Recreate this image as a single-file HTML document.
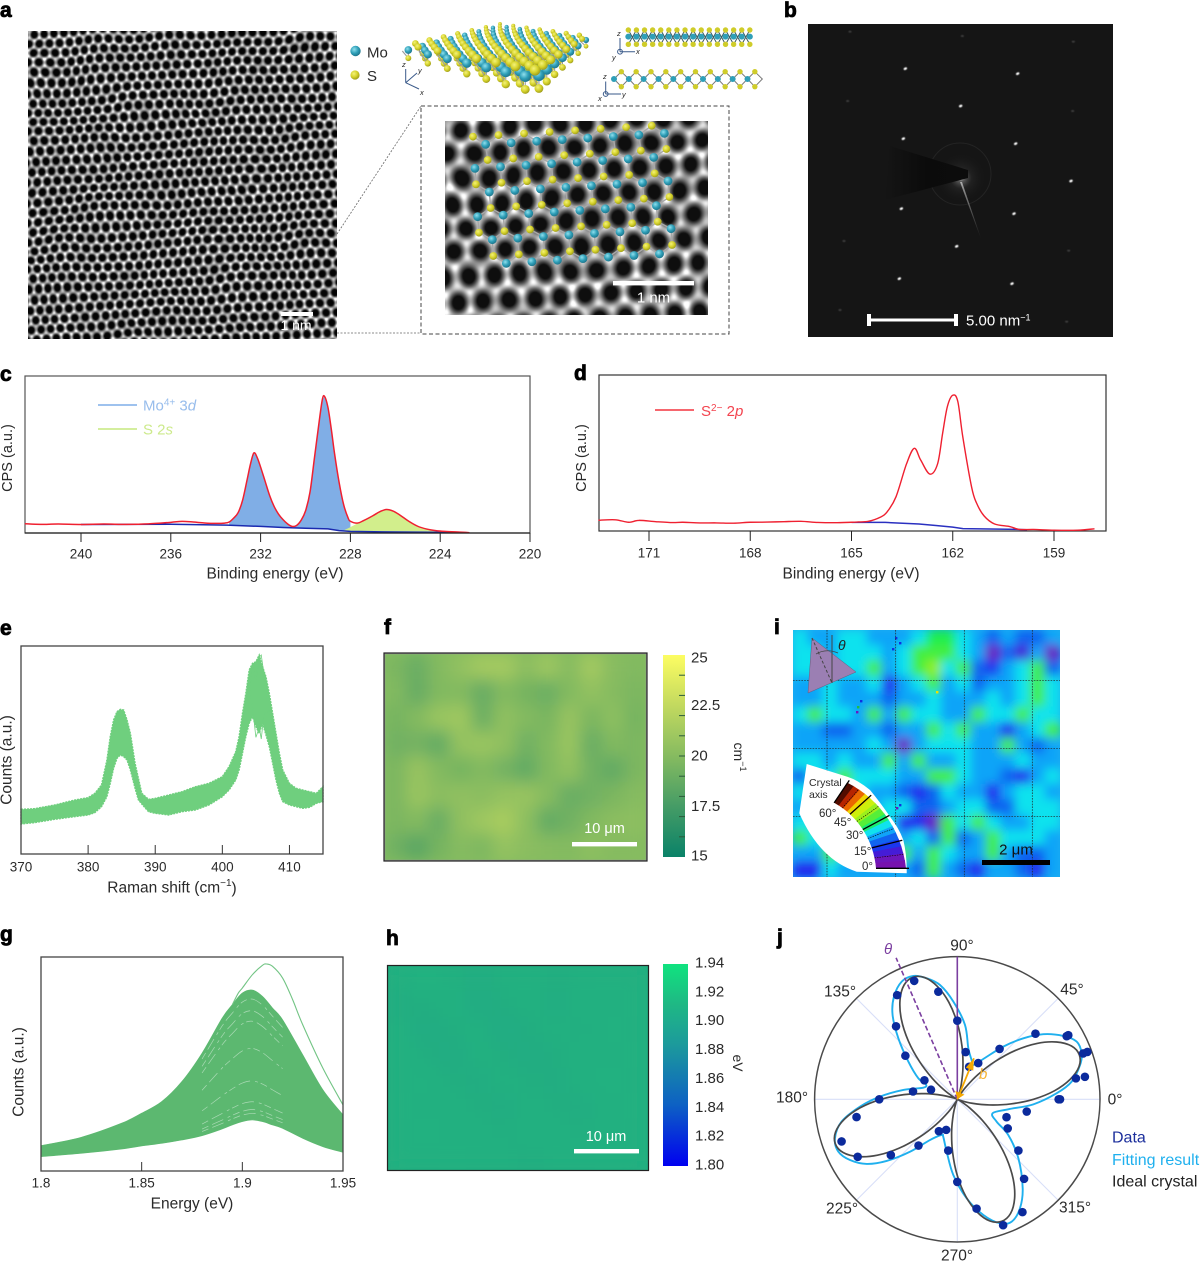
<!DOCTYPE html>
<html lang="en">
<head>
<meta charset="utf-8">
<title>MoS2 characterization figure</title>
<style>
html,body{margin:0;padding:0;background:#fff;}
#figure{position:relative;width:1200px;height:1262px;overflow:hidden;background:#fff;font-family:"Liberation Sans",sans-serif;}
canvas{position:absolute;display:block;}
svg#main{position:absolute;left:0;top:0;}
text{font-family:"Liberation Sans",sans-serif;fill:#2a2a2a;}
.panel{font-size:21px;font-weight:bold;fill:#000;stroke:#000;stroke-width:.8px;}
.tick{font-size:13.5px;text-anchor:middle;dominant-baseline:central;}
.axis{font-size:15.5px;text-anchor:middle;dominant-baseline:central;}
.cps{font-size:14.5px;}
.cb{font-size:15px;dominant-baseline:central;}
.ang{font-size:15.5px;text-anchor:middle;dominant-baseline:central;}
</style>
</head>
<body>
<div id="figure">
<canvas id="haadf" width="309" height="308" style="left:28px;top:31px"></canvas>
<canvas id="inset" width="263" height="194" style="left:445px;top:121px"></canvas>
<svg id="main" width="1200" height="1262" viewBox="0 0 1200 1262" xmlns="http://www.w3.org/2000/svg">
<defs>
<radialGradient id="moBall" cx=".38" cy=".35" r=".75"><stop offset="0" stop-color="#8fe0ee"/><stop offset=".5" stop-color="#2f9fb8"/><stop offset="1" stop-color="#1a6a80"/></radialGradient>
<radialGradient id="sBall" cx=".38" cy=".35" r=".75"><stop offset="0" stop-color="#f4f27a"/><stop offset=".5" stop-color="#d5d22a"/><stop offset="1" stop-color="#8f8d18"/></radialGradient>
<radialGradient id="beamGlow"><stop offset="0" stop-color="#fff" stop-opacity=".8"/><stop offset=".15" stop-color="#aaa" stop-opacity=".45"/><stop offset=".45" stop-color="#444" stop-opacity=".25"/><stop offset="1" stop-color="#222" stop-opacity="0"/></radialGradient>
<linearGradient id="stopFill" x1="0" x2="1" y1="0" y2="0"><stop offset="0" stop-color="#151515"/><stop offset=".5" stop-color="#0b0b0b"/><stop offset="1" stop-color="#0c0c0c"/></linearGradient>
<linearGradient id="streakFill" x1="0" x2="0" y1="0" y2="1"><stop offset="0" stop-color="#fff" stop-opacity=".55"/><stop offset="1" stop-color="#fff" stop-opacity="0"/></linearGradient>
<linearGradient id="fBar" x1="0" x2="0" y1="1" y2="0"><stop offset="0" stop-color="#0a8268"/><stop offset=".25" stop-color="#459c66"/><stop offset=".5" stop-color="#86bb60"/><stop offset=".75" stop-color="#c2d95f"/><stop offset="1" stop-color="#fdfd62"/></linearGradient>
<linearGradient id="hBar" x1="0" x2="0" y1="1" y2="0"><stop offset="0" stop-color="#0000f0"/><stop offset=".3" stop-color="#0d60c4"/><stop offset=".6" stop-color="#1c9a9c"/><stop offset=".8" stop-color="#1fb884"/><stop offset="1" stop-color="#10e37f"/></linearGradient>
<filter id="blurF" x="-5%" y="-5%" width="110%" height="110%"><feGaussianBlur stdDeviation="8"/></filter>
<filter id="blurH" x="-5%" y="-5%" width="110%" height="110%"><feGaussianBlur stdDeviation="10"/></filter>
<filter id="blurI" x="-5%" y="-5%" width="110%" height="110%"><feGaussianBlur stdDeviation="5"/></filter>
<filter id="blurSpot" x="-100%" y="-100%" width="300%" height="300%"><feGaussianBlur stdDeviation=".55"/></filter>
<clipPath id="clipF"><rect x="385" y="654" width="261" height="206"/></clipPath>
<clipPath id="clipH"><rect x="388" y="966" width="260" height="204"/></clipPath>
<clipPath id="clipI"><rect x="793" y="630" width="267" height="247"/></clipPath>
</defs>

<!-- panel letters -->
<text class="panel" x="0" y="17">a</text>
<text class="panel" x="784" y="17">b</text>
<text class="panel" x="0" y="381">c</text>
<text class="panel" x="574" y="380">d</text>
<text class="panel" x="0" y="635">e</text>
<text class="panel" x="384" y="634">f</text>
<text class="panel" x="0" y="941">g</text>
<text class="panel" x="386" y="945">h</text>
<text class="panel" x="774" y="634">i</text>
<text class="panel" x="777" y="944">j</text>

<!-- panel a -->
<g>
<rect x="281" y="312" width="32" height="4" fill="#fff"/>
<text x="296" y="325" style="fill:#fff;font-size:14px;text-anchor:middle;dominant-baseline:central">1 nm</text>
<circle cx="355.5" cy="51" r="5.2" fill="url(#moBall)"/>
<text x="367" y="57.5" style="font-size:15px">Mo</text>
<circle cx="355" cy="75" r="4.6" fill="url(#sBall)"/>
<text x="367" y="81" style="font-size:15px">S</text>
<path d="M337 234 L421 106 M337 333 L421 333" fill="none" stroke="#666" stroke-width=".8" stroke-dasharray="2 1.5"/>
<rect x="421" y="106" width="308" height="228" fill="none" stroke="#444" stroke-width="1" stroke-dasharray="4 2.5"/>
<g id="atoms3d"></g>
<g id="sideTop"></g>
<g id="sideBottom"></g>
<g id="insetAtoms"></g>
<rect x="613" y="281" width="81" height="4.4" fill="#fff"/>
<text x="653.5" y="298" style="fill:#fff;font-size:15px;text-anchor:middle;dominant-baseline:central">1 nm</text>
<g stroke="#3a5a8a" stroke-width="1" fill="none">
<path d="M405.7 82.7 V69 M405.7 82.7 L417 73 M405.7 82.7 L419 89"/>
<path d="M620 51.7 V38 M620 51.7 H635"/>
<path d="M605.7 94 V81.5 M605.7 94 H621"/>
<circle cx="620" cy="51.7" r="2.4"/><circle cx="605.7" cy="94" r="2.4"/>
</g>
<g style="font-size:7.5px;font-style:italic">
<text x="402" y="67">z</text><text x="418" y="73">y</text><text x="420" y="95">x</text>
<text x="617" y="36">z</text><text x="636" y="54">x</text><text x="612" y="60">y</text>
<text x="603" y="79">z</text><text x="622" y="97">y</text><text x="598" y="101">x</text>
</g>
</g>

<!-- panel b -->
<g>
<rect x="808" y="24" width="305" height="313" fill="#151515"/>
<circle cx="960" cy="174" r="31" fill="none" stroke="#242424" stroke-width="1"/>
<circle cx="961" cy="178" r="24" fill="url(#beamGlow)"/>
<polygon points="890,146 968,170 968,178 915,192 885,200" fill="url(#stopFill)"/>
<polygon points="960,182 962,182 981,238 980.5,238" fill="url(#streakFill)"/>
<g id="spots" filter="url(#blurSpot)"></g>
<rect x="867" y="318.5" width="91" height="3" fill="#fff"/>
<rect x="867" y="314" width="4" height="12" fill="#fff"/>
<rect x="954" y="314" width="4" height="12" fill="#fff"/>
<text x="966" y="325.5" style="fill:#fff;font-size:15px">5.00 nm<tspan dy="-5" style="font-size:9px;fill:#fff">−1</tspan></text>
</g>

<!-- panel c -->
<g id="chartC">
<rect x="25" y="376" width="505" height="157" fill="none" stroke="#555" stroke-width="1.2"/>
<g id="cMarks"></g>
<line x1="25" y1="533" x2="530" y2="533" stroke="#222" stroke-width="1.3"/>
<g id="cTicks"></g>
<text class="axis" x="275" y="574">Binding energy (eV)</text>
<text class="axis cps" transform="rotate(-90 8 458)" x="8" y="458">CPS (a.u.)</text>
<line x1="98" y1="405" x2="137" y2="405" stroke="#7eaee8" stroke-width="1.5"/>
<text x="143" y="410.5" style="fill:#98bdec;font-size:15px">Mo<tspan dy="-5" style="font-size:10px;fill:#98bdec">4+</tspan><tspan dy="5" style="fill:#98bdec"> 3</tspan><tspan style="font-style:italic;fill:#98bdec">d</tspan></text>
<line x1="98" y1="429" x2="137" y2="429" stroke="#c6e87e" stroke-width="1.5"/>
<text x="143" y="434.5" style="fill:#cdea8c;font-size:15px">S 2<tspan style="font-style:italic;fill:#cdea8c">s</tspan></text>
</g>

<!-- panel d -->
<g id="chartD">
<rect x="599" y="375" width="507" height="156" fill="none" stroke="#333" stroke-width="1.2"/>
<g id="dMarks"></g>
<g id="dTicks"></g>
<text class="axis" x="851" y="574">Binding energy (eV)</text>
<text class="axis cps" transform="rotate(-90 582 458)" x="582" y="458">CPS (a.u.)</text>
<line x1="655" y1="410" x2="694" y2="410" stroke="#f3333f" stroke-width="1.5"/>
<text x="701" y="416" style="fill:#f3444f;font-size:15px">S<tspan dy="-5" style="font-size:10px;fill:#f3444f">2−</tspan><tspan dy="5" style="fill:#f3444f"> 2</tspan><tspan style="font-style:italic;fill:#f3444f">p</tspan></text>
</g>

<!-- panel e -->
<g id="chartE">
<g id="eMarks"></g>
<rect x="21" y="646" width="302" height="208" fill="none" stroke="#444" stroke-width="1.3"/>
<g id="eTicks"></g>
<text class="axis" x="172" y="888">Raman shift (cm<tspan dy="-5" style="font-size:10px">−1</tspan><tspan dy="5">)</tspan></text>
<text class="axis" transform="rotate(-90 7 760)" x="7" y="760">Counts (a.u.)</text>
</g>

<!-- panel f -->
<g id="chartF">
<g clip-path="url(#clipF)"><rect x="385" y="654" width="261" height="206" fill="#85bd60"/><g id="fCells" filter="url(#blurF)"></g></g>
<rect x="384.7" y="653.7" width="261.6" height="206.6" fill="none" stroke="#999" stroke-width="1"/>
<rect x="384" y="653" width="263" height="208" fill="none" stroke="#222" stroke-width="1.2"/>
<rect x="572" y="842" width="65" height="4.4" fill="#fff"/>
<text x="604.5" y="829" style="fill:#fff;font-size:14.5px;text-anchor:middle;dominant-baseline:central">10 μm</text>
<rect x="663" y="655" width="22" height="202" fill="url(#fBar)"/>
<g id="fTicks"></g>
<text x="739" y="757" transform="rotate(90 739 757)" style="font-size:14px;text-anchor:middle;dominant-baseline:central">cm<tspan dy="-4" style="font-size:9px">−1</tspan></text>
</g>

<!-- panel g -->
<g id="chartG">
<g id="gMarks"></g>
<rect x="41" y="957" width="302" height="214" fill="none" stroke="#444" stroke-width="1.3"/>
<g id="gTicks"></g>
<text class="axis" x="192" y="1204">Energy (eV)</text>
<text class="axis" transform="rotate(-90 19 1072)" x="19" y="1072">Counts (a.u.)</text>
</g>

<!-- panel h -->
<g id="chartH">
<g clip-path="url(#clipH)"><rect x="388" y="966" width="260" height="204" fill="#22ae80"/><g id="hCells" filter="url(#blurH)"></g></g>
<rect x="387.5" y="965.5" width="261" height="205" fill="none" stroke="#222" stroke-width="1.2"/>
<rect x="574" y="1149" width="65" height="4.4" fill="#fff"/>
<text x="606" y="1137" style="fill:#fff;font-size:14.5px;text-anchor:middle;dominant-baseline:central">10 μm</text>
<rect x="663" y="964" width="25" height="202" fill="url(#hBar)"/>
<g id="hTicks"></g>
<text x="738" y="1063" transform="rotate(90 738 1063)" style="font-size:14px;text-anchor:middle;dominant-baseline:central">eV</text>
</g>

<!-- panel i -->
<g id="chartI">
<g clip-path="url(#clipI)"><rect x="793" y="630" width="267" height="247" fill="#16aef0"/><g id="iCells" filter="url(#blurI)"></g><g id="iSpecks"></g></g>
<path d="M827 630 V877 M895.7 630 V877 M964.3 630 V877 M1032.3 630 V877 M793 680.7 H1060 M793 748.7 H1060 M793 816.7 H1060" fill="none" stroke="#222" stroke-width=".7" stroke-dasharray="1.6 1.2"/>
<polygon points="812,638 856,672 808,693" fill="#9b7fb3" stroke="#6b5a7c" stroke-width=".5"/>
<path d="M832 635 V683" stroke="#444" stroke-width="1" fill="none"/>
<path d="M812 638 L832 683" stroke="#444" stroke-width="1" stroke-dasharray="3 2" fill="none"/>
<path d="M816 654 Q826 648 838 653" stroke="#444" stroke-width=".8" fill="none"/>
<text x="838" y="650" style="font-size:14px;font-style:italic;fill:#222">θ</text>
<g id="fan"></g>
<text x="809" y="786" style="font-size:10.5px">Crystal</text>
<text x="809" y="798" style="font-size:10.5px">axis</text>
<text x="819" y="817" style="font-size:11.5px">60°</text>
<text x="834" y="826" style="font-size:11.5px">45°</text>
<text x="846" y="839" style="font-size:11.5px">30°</text>
<text x="854" y="855" style="font-size:11.5px">15°</text>
<text x="862" y="870" style="font-size:11.5px">0°</text>
<rect x="982" y="860" width="68" height="5" fill="#000"/>
<text x="1016" y="850" style="fill:#111;font-size:15px;text-anchor:middle;dominant-baseline:central">2 μm</text>
</g>

<!-- panel j -->
<g id="chartJ">
<g id="jGrid"></g>
<circle cx="957.3" cy="1099.3" r="142.7" fill="none" stroke="#4a4a4a" stroke-width="1.5"/>
<g id="jMarks"></g>
<text class="ang" x="962" y="946">90°</text>
<text class="ang" x="1072" y="990">45°</text>
<text class="ang" x="840" y="992">135°</text>
<text class="ang" x="792" y="1098">180°</text>
<text class="ang" x="1115" y="1100">0°</text>
<text class="ang" x="842" y="1209">225°</text>
<text class="ang" x="1075" y="1208">315°</text>
<text class="ang" x="957" y="1256">270°</text>
<text x="884" y="954" style="fill:#7b3fa0;font-size:15px;font-style:italic">θ</text>
<text x="979" y="1079" style="fill:#f5b335;font-size:15px;font-style:italic">b</text>
<text x="1112" y="1142.5" style="fill:#1c2f9c;font-size:16px">Data</text>
<text x="1112" y="1165" style="fill:#1fb0ee;font-size:16px">Fitting result</text>
<text x="1112" y="1186.5" style="fill:#222;font-size:16px">Ideal crystal</text>
</g>
</svg>
</div>

<script>
/* ---------- chart data ---------- */
/* panel c */
const cEnergy=[242.5,241.8,241,240,239,238,237,236,235.5,235,234.5,234,233.6,233.4,233.2,233,232.8,232.6,232.45,232.3,232.15,232,231.8,231.6,231.4,231.2,231,230.8,230.6,230.4,230.2,230,229.8,229.6,229.4,229.25,229.15,229,228.85,228.7,228.5,228.3,228.1,228,227.7,227.4,227,226.7,226.4,226.1,225.8,225.4,225,224.6,224.2,223.8,223,222.7];
const cCounts=[5.9,5.5,5.7,5.4,5.7,5.5,5.8,6.8,7.4,7,6.4,6.1,6.3,7,9.5,13,21,34,44,51,48,42,33,24,17,12,8.5,5.8,4.2,4.8,8,14,26,48,70,85,87,80,66,50,32,18,9.5,7.5,6.3,8,11,13.5,15,14,11.5,7.5,4.3,2.5,1.5,1,.5,.2];
const cBackgroundEnergy=[240,236,233.5,232,231,230,229,228.5,228,226,223];
const cBackground=[5.4,5.6,5,4.2,3.5,3,2.6,1.5,1,.6,.3];
const cSulfurEnergy=[228.4,228.1,227.7,227.4,227,226.7,226.4,226.1,225.8,225.4,225,224.6,224.2,223.8];
const cSulfur=[1,3,6,8,11,13.5,15,14,11.5,7.5,4.3,2.5,1.5,.8];
const cTicks=[240,236,232,228,224,220];
/* panel d */
const dEnergy=[172.5,172,171.6,171.3,170.8,170.3,170,169.5,169,168.5,168,167.5,167,166.5,166,165.5,165,164.8,164.5,164.15,163.94,163.68,163.37,163.14,162.95,162.68,162.45,162.3,162.16,162,161.85,161.7,161.44,161.29,161.07,160.76,160.3,160.03,159.6,159,158.3,157.8];
const dCounts=[6.9,7.2,5.6,6.8,6,5.4,5.6,5.2,5.2,5,5.6,5.7,6,6.2,5.5,5.3,5.6,5.8,6.2,8.8,12.4,22,43,53,45.5,36.5,43,62.6,79.7,87,83,60,28,17.7,9.6,4.5,2.8,1,1,.5,.5,1.4];
const dBackgroundEnergy=[165,164,163,162.5,162,161.7,160,159.8];
const dBackground=[5.5,5.5,4.5,3.5,2.5,1.5,1,.8];
const dTicks=[171,168,165,162,159];
/* panel e */
const eShift=[370,372,375,378,380,381,382,382.8,383.3,383.8,384.3,384.8,385.3,385.8,386.3,387,387.5,388,389,390,392,394,396,398,400,401,402,402.5,403,403.5,404,404.5,405,405.5,406,406.5,407,407.5,408,408.5,409,410,411,412,413,414,415];
const eUpper=[134,136,147,162,169,182,207,282,352,402,427,434,432,402,362,272,227,182,164,167,177,187,202,212,232,262,307,352,422,482,552,572,577,597,562,532,482,422,362,302,252,212,197,192,187,182,202];
const eLower=[90,94,104,112,117,124,142,172,212,257,287,297,292,282,252,197,162,150,127,122,117,127,132,147,172,192,222,252,302,352,392,412,382,362,392,357,322,272,222,182,157,147,142,137,140,152,157];
const eSpikeShift=[404,404.5,405,405.5,405.8,406.2,407,408];
const eSpikeA=[480,570,520,590,597,540,470,350];
const eSpikeB=[500,440,350,380,345,420,430,340];
const eTicks=[370,380,390,400,410];
/* panel f */
const fMap=[
[19.6,18.9,19.9,20.5,21.2,21.2,20.2,20.9,20.0,21.2,20.1,19.8],
[19.8,18.8,19.8,19.9,18.8,19.9,19.4,19.0,19.9,20.5,20.0,19.6],
[19.4,19.9,20.8,21.0,19.0,20.4,19.9,19.5,20.7,19.6,20.3,19.4],
[19.2,19.3,18.7,20.6,20.8,20.4,19.2,19.8,20.8,18.9,19.8,19.6],
[19.6,20.7,19.9,19.4,19.9,19.3,18.6,19.8,20.5,19.2,18.6,19.6],
[19.6,20.8,20.2,20.4,20.2,20.6,20.7,20.0,18.9,19.2,19.6,20.0],
[19.6,19.9,18.9,20.4,21.0,21.4,20.3,18.7,19.2,19.8,20.2,20.3],
[19.1,18.3,19.4,20.0,19.7,20.6,20.2,20.0,19.9,20.3,20.0,20.0]];
const fColorValues=[15,17.5,20,22.5,25];
const fColors=["#0a8268","#459c66","#86bb60","#c2d95f","#fdfd62"];
const fBarLabels=["25","22.5","20","17.5","15"];
const fBarValues=[25,22.5,20,17.5,15];
const fMinorTicks=[24,23,22,21,20,19,18,17,16];
/* panel g */
const gEnergy=[1.80,1.82,1.84,1.85,1.86,1.87,1.88,1.89,1.895,1.90,1.905,1.91,1.915,1.92,1.93,1.94,1.95];
const gUpper=[76,101,143,173,208,268,353,458,498,533,542,523,488,453,348,243,168];
const gLower=[43,53,66,75,83,93,106,126,138,148,153,148,138,128,98,73,56];
const gBrightEnergy=[1.895,1.898,1.90,1.905,1.91,1.912,1.915,1.92,1.925,1.93,1.94,1.95];
const gBright=[498,533,548,588,616,620,613,578,513,438,308,198];
const gGapLevels=[.93,.84,.76,.55,.30,.14,.08,.05];
const gTicks=[1.8,1.85,1.9,1.95];
/* panel h */
const hMap=[
[1.906,1.908,1.906,1.904,1.906,1.907,1.905,1.906,1.907,1.906],
[1.904,1.905,1.907,1.903,1.905,1.906,1.904,1.906,1.906,1.907],
[1.906,1.903,1.905,1.906,1.902,1.905,1.906,1.905,1.907,1.906],
[1.907,1.905,1.903,1.906,1.905,1.903,1.905,1.906,1.906,1.907],
[1.906,1.907,1.905,1.904,1.906,1.905,1.904,1.906,1.907,1.906],
[1.907,1.906,1.906,1.905,1.904,1.906,1.905,1.904,1.906,1.907],
[1.906,1.907,1.906,1.906,1.905,1.906,1.906,1.905,1.906,1.906],
[1.907,1.906,1.907,1.906,1.906,1.905,1.906,1.906,1.907,1.906]];
const hColorValues=[1.80,1.842,1.884,1.905,1.94];
const hColors=["#0000f0","#0d60c4","#1c9a9c","#22ae80","#10e37f"];
const hBarLabels=["1.94","1.92","1.90","1.88","1.86","1.84","1.82","1.80"];
const hBarValues=[1.94,1.92,1.90,1.88,1.86,1.84,1.82,1.80];
/* panel i */
const iMap=[
[26,22,22,26,26,22,22,22,26,31,31,26,22,18,22,18,18,22],
[26,26,22,26,26,26,22,26,33,33,33,26,22,8,18,10,22,8],
[26,26,22,26,26,33,22,26,33,37,26,33,18,14,22,26,33,18],
[22,22,26,22,22,26,12,22,26,33,22,26,18,22,22,26,33,26],
[22,22,26,22,22,22,18,22,22,26,22,22,22,26,22,26,33,26],
[26,33,26,26,22,33,22,33,26,26,22,22,33,26,26,33,26,26],
[22,22,18,18,22,22,18,22,22,33,26,33,22,22,12,22,26,33],
[22,22,22,22,22,26,22,8,22,26,26,26,22,22,33,22,18,22],
[26,26,22,26,22,22,33,22,33,22,22,26,22,22,22,26,22,22],
[18,26,26,33,26,26,26,22,22,33,33,26,22,22,18,12,22,26],
[26,22,26,33,26,22,22,18,12,18,26,22,22,12,22,26,26,22],
[22,26,26,26,26,22,26,26,18,18,22,26,26,18,18,26,26,26],
[26,26,26,26,22,22,26,12,12,8,33,26,33,26,22,22,26,26],
[33,26,26,26,22,22,26,22,26,18,33,18,22,33,26,26,26,22],
[22,22,33,26,22,22,26,33,22,33,26,22,22,33,22,18,18,22],
[12,12,26,22,22,22,22,22,18,33,22,18,12,22,22,18,12,22]];
const iColorValues=[0,8,12,18,22,26,31,37,45,52,60];
const iColors=["#7a10a8","#6a18c0","#2020ee","#1064f0","#10a4f8","#10e2ee","#1cee50","#90f020","#f0f000","#e83000","#200000"];
const iWheelAngles=[0,4,8,12,16,20,24,28,32,36,40,44,48,52,56,60];
const iWheelMajor=[0,15,30,45,60];
const iWheelMinor=[7.5,22.5,37.5,52.5];
/* panel j */
const jDataAngle=[0,0,10,10,20,20,30,30,40,50,60,70,80,90,100,110,120,130,140,150,160,170,180,190,200,210,220,230,240,250,260,270,280,290,300,310,320,330,340,350];
const jDataRadius=[72,71,90.8,84.4,97,93.9,89.8,88.5,71.5,46.1,29.3,24.2,33.6,55.1,76.6,88.3,84.3,66.8,47.5,26.6,19.6,31.5,54.7,71.7,86.3,80.6,60.8,42.3,25.8,22.8,36.5,57.9,77.8,93.9,91.3,72.8,55.9,40.8,36.7,49.4];
const jFitAngle=[338.4,348.9,356.2,3.5,8.8,15.6,20.3,25.8,30.9,37.1,42.7,48.9,57.2,65,70,77.8,84.1,92.3,98.6,104.2,109.6,115.3,121.7,127.5,134,142.4,151.7,154.4,161.1,170.2,178,184.3,190.9,197.7,203.7,209.5,215.5,221.1,227.9,236.1,246.3,249.4,258.5,267,275.4,282.7,289,294,299.9,306.3,316,325,330.4];
const jFitRadius=[26.6,36.4,53.4,69.8,81.1,89.3,92.9,92.9,86.5,75.6,63,49,33.6,26.5,29.3,36.6,52.4,68.5,81,87.5,91.8,91.2,84.5,74.5,59.5,43.3,31,24.4,25.2,38.4,54.2,68.4,82.6,90,91.1,86.4,78,65.7,49.5,34.4,27.3,28,37.4,53.1,69.7,83.1,91.9,93.8,88.1,77.4,59.5,43.6,31.7];
const jIdealAngle=[0,5,10,15,20,25,30,35,40,45,50,55,60,65,70,75,80,85,90,95,100,105,110,115,120,125,130,135,140,145,150,155,160,165,170,175,180,185,190,195,200,205,210,215,220,225,230,235,240,245,250,255,260,265,270,275,280,285,290,295,300,305,310,315,320,325,330,335,340,345,350,355];
const jIdealRadius=[53.4,68.3,80.3,88.3,91,88.3,80.3,68.3,53.4,37.5,22.8,10.7,2.7,0,2.7,10.7,22.8,37.5,53.4,68.3,80.3,88.3,91,88.3,80.3,68.3,53.4,37.5,22.8,10.7,2.7,0,2.7,10.7,22.8,37.5,53.4,68.3,80.3,88.3,91,88.3,80.3,68.3,53.4,37.5,22.8,10.7,2.7,0,2.7,10.7,22.8,37.5,53.4,68.3,80.3,88.3,91,88.3,80.3,68.3,53.4,37.5,22.8,10.7,2.7,0,2.7,10.7,22.8,37.5];
const jSpokes=[0,45,90,135,180,225,270,315];
const jAxisAngle=113.4;
const jBAngle=67.9;

/* ---------- helpers ---------- */
const NS="http://www.w3.org/2000/svg";
function mk(tag,attrs,parent){
  const el=document.createElementNS(NS,tag);
  for(const k in attrs) el.setAttribute(k,attrs[k]);
  parent.appendChild(el);
  return el;
}
const $=id=>document.getElementById(id);
const linear=(d0,d1,r0,r1)=>v=>r0+(v-d0)*(r1-r0)/(d1-d0);
function interp(xs,ys,x){
  for(let i=0;i<xs.length-1;i++){
    const a=xs[i],b=xs[i+1];
    if((x>=a&&x<=b)||(x<=a&&x>=b)){return ys[i]+(ys[i+1]-ys[i])*(x-a)/(b-a);}
  }
  return ys[Math.abs(x-xs[0])<Math.abs(x-xs[xs.length-1])?0:ys.length-1];
}
function smooth(pts,closed){
  const n=pts.length;
  let d="M"+pts[0][0].toFixed(2)+" "+pts[0][1].toFixed(2);
  const last=closed?n:n-1;
  for(let i=0;i<last;i++){
    const g=k=>closed?pts[(k+n)%n]:pts[Math.max(0,Math.min(n-1,k))];
    const p0=g(i-1),p1=g(i),p2=g(i+1),p3=g(i+2);
    d+=" C"+(p1[0]+(p2[0]-p0[0])/6).toFixed(2)+" "+(p1[1]+(p2[1]-p0[1])/6).toFixed(2)+" "+(p2[0]-(p3[0]-p1[0])/6).toFixed(2)+" "+(p2[1]-(p3[1]-p1[1])/6).toFixed(2)+" "+p2[0].toFixed(2)+" "+p2[1].toFixed(2);
  }
  return d+(closed?" Z":"");
}
const poly=pts=>pts.map(p=>p[0].toFixed(2)+","+p[1].toFixed(2)).join(" ");
function hexRgb(h){return [parseInt(h.substr(1,2),16),parseInt(h.substr(3,2),16),parseInt(h.substr(5,2),16)];}
function colorAt(vals,cols,v){
  if(v<=vals[0])return cols[0];
  for(let i=0;i<vals.length-1;i++){
    if(v<=vals[i+1]){
      const t=(v-vals[i])/(vals[i+1]-vals[i]),a=hexRgb(cols[i]),b=hexRgb(cols[i+1]);
      return "rgb("+a.map((c,k)=>Math.round(c+(b[k]-c)*t)).join(",")+")";
    }
  }
  return cols[cols.length-1];
}

/* ---------- panel c ---------- */
(function(){
  const x=linear(240,220,81,530),y=linear(0,100,533,376);
  const g=$("cMarks");
  const moTop=cEnergy.map((e,i)=>[e,cCounts[i]]).filter(p=>p[0]<=233.4&&p[0]>=227.9);
  const moPts=moTop.map(p=>[x(p[0]),y(p[1])]).concat(moTop.slice().reverse().map(p=>[x(p[0]),y(interp(cBackgroundEnergy,cBackground,p[0]))]));
  const mo=mk("polygon",{points:poly(moPts),fill:"#80aee6"},g);
  
  
  const sPts=cSulfurEnergy.map((e,i)=>[x(e),y(cSulfur[i])]).concat(cSulfurEnergy.slice().reverse().map(e=>[x(e),y(interp(cBackgroundEnergy,cBackground,e))]));
  const su=mk("polygon",{points:poly(sPts),fill:"#d2ee8c"},g);
  
  
  const bg=mk("polyline",{points:poly(cBackgroundEnergy.map((e,i)=>[x(e),y(cBackground[i])])),fill:"none",stroke:"#1a2ab0","stroke-width":1.5},g);
  
  
  const line=mk("path",{d:smooth(cEnergy.map((e,i)=>[x(e),y(cCounts[i])])),fill:"none",stroke:"#ef2030","stroke-width":1.5},g);
  
  
  cTicks.forEach(t=>{
    const tk=mk("line",{x1:x(t),x2:x(t),y1:533,y2:542,stroke:"#222","stroke-width":1},$("cTicks"));
    
    
    const lb=mk("text",{x:x(t),y:554,class:"tick"},$("cTicks"));
    lb.textContent=t;
    
    
  });
})();

/* ---------- panel d ---------- */
(function(){
  const x=linear(171,159,649,1054),y=linear(0,100,531,375);
  const g=$("dMarks");
  const bg=mk("polyline",{points:poly(dBackgroundEnergy.map((e,i)=>[x(e),y(dBackground[i])])),fill:"none",stroke:"#2a30c0","stroke-width":1.5},g);
  
  
  const line=mk("path",{d:smooth(dEnergy.map((e,i)=>[x(e),y(dCounts[i])])),fill:"none",stroke:"#ef2030","stroke-width":1.4},g);
  
  
  dTicks.forEach(t=>{
    const tk=mk("line",{x1:x(t),x2:x(t),y1:531,y2:541,stroke:"#222","stroke-width":1},$("dTicks"));
    
    
    const lb=mk("text",{x:x(t),y:553,class:"tick"},$("dTicks"));
    lb.textContent=t;
    
    
  });
})();

/* ---------- panel e ---------- */
(function(){
  const x=linear(370,415,21,323),y=linear(0,624,854,646);
  const g=$("eMarks");
  const pts=eShift.map((s,i)=>[x(s),y(eUpper[i])]).concat(eShift.slice().reverse().map((s,i)=>[x(s),y(eLower[eShift.length-1-i])]));
  const band=mk("polygon",{points:poly(pts),fill:"#6fcf7e",stroke:"#6fcf7e","stroke-width":1.4,"stroke-dasharray":"2 1"},g);
  
  
  [eSpikeA,eSpikeB].forEach(s=>{
    const l=mk("polyline",{points:poly(eSpikeShift.map((v,i)=>[x(v),y(s[i])])),fill:"none",stroke:"#6fcf7e","stroke-width":.8},g);
    
    
  });
  eTicks.forEach((t,i)=>{
    if(i>0){
      const tk=mk("line",{x1:x(t),x2:x(t),y1:854,y2:845,stroke:"#333","stroke-width":1},$("eTicks"));
      
      
    }
    const lb=mk("text",{x:x(t),y:867,class:"tick"},$("eTicks"));
    lb.textContent=t;
    
    
  });
})();

/* ---------- panel f ---------- */
(function(){
  const rows=fMap.length,cols=fMap[0].length;
  const xc=linear(0,cols,385,646),yc=linear(0,rows,654,860);
  fMap.forEach((row,j)=>row.forEach((v,i)=>{
    const c=mk("rect",{x:xc(i)-.5,y:yc(j)-.5,width:xc(1)-xc(0)+1,height:yc(1)-yc(0)+1,fill:colorAt(fColorValues,fColors,v)},$("fCells"));
    
    
  }));
  const y=linear(15,25,857,655);
  fBarValues.forEach((v,i)=>{
    const lb=mk("text",{x:691,y:y(v)+(v===25?3:v===15?-1:0),class:"cb"},$("fTicks"));
    lb.textContent=fBarLabels[i];
    
    
  });
  fMinorTicks.forEach(v=>{
    const tk=mk("line",{x1:679,x2:685,y1:y(v),y2:y(v),stroke:"#2a5a3a","stroke-width":1},$("fTicks"));
    
    
  });
})();

/* ---------- panel g ---------- */
(function(){
  const x=linear(1.8,1.95,41,343),y=linear(0,641,1171,957);
  const g=$("gMarks");
  const pts=gEnergy.map((e,i)=>[x(e),y(gUpper[i])]);
  const low=gEnergy.map((e,i)=>[x(e),y(gLower[i])]);
  const upPath=smooth(pts);
  const band=mk("path",{d:upPath+" L"+low[low.length-1][0]+" "+low[low.length-1][1]+smooth(low.slice().reverse()).replace(/^M/," L")+" Z",fill:"#5cb870",stroke:"#5cb870","stroke-width":.7},g);
  
  
  gGapLevels.forEach(f=>{
    const seg=gEnergy.map((e,i)=>[e,gLower[i]+(gUpper[i]-gLower[i])*f]).filter(p=>p[0]>=1.88&&p[0]<=1.925).map(p=>[x(p[0]),y(p[1])]);
    const l=mk("path",{d:smooth(seg),fill:"none",stroke:"#e9f6ec","stroke-width":.7,"stroke-dasharray":"7 4 12 5 3 3","stroke-opacity":.55},g);
    
    
  });
  const br=mk("path",{d:smooth(gBrightEnergy.map((e,i)=>[x(e),y(gBright[i])])),fill:"none",stroke:"#72c484","stroke-width":1.1},g);
  
  
  gTicks.forEach((t,i)=>{
    if(i===1||i===2){
      const tk=mk("line",{x1:x(t),x2:x(t),y1:1171,y2:1162,stroke:"#333","stroke-width":1},$("gTicks"));
      
      
    }
    const lb=mk("text",{x:x(t),y:1183,class:"tick"},$("gTicks"));
    lb.textContent=t;
    
    
  });
})();

/* ---------- panel h ---------- */
(function(){
  const rows=hMap.length,cols=hMap[0].length;
  const xc=linear(0,cols,388,648),yc=linear(0,rows,966,1170);
  hMap.forEach((row,j)=>row.forEach((v,i)=>{
    const c=mk("rect",{x:xc(i)-.5,y:yc(j)-.5,width:xc(1)-xc(0)+1,height:yc(1)-yc(0)+1,fill:colorAt(hColorValues,hColors,v)},$("hCells"));
    
    
  }));
  const y=linear(1.80,1.94,1165,963);
  hBarValues.forEach((v,i)=>{
    const lb=mk("text",{x:695,y:y(v),class:"cb"},$("hTicks"));
    lb.textContent=hBarLabels[i];
    
    
  });
})();

/* ---------- panel i ---------- */
(function(){
  const rows=iMap.length,cols=iMap[0].length;
  const xc=linear(0,cols,793,1060),yc=linear(0,rows,630,877);
  iMap.forEach((row,j)=>row.forEach((v,i)=>{
    const c=mk("rect",{x:xc(i)-.5,y:yc(j)-.5,width:xc(1)-xc(0)+1,height:yc(1)-yc(0)+1,fill:colorAt(iColorValues,iColors,v)},$("iCells"));
    
    
  }));
  [[895,637,"#1030e0"],[899,642,"#1030e0"],[892,648,"#1030e0"],[860,700,"#1030e0"],[857,706,"#20c040"],[856,711,"#6a18c0"],[936,691,"#f0e000"],[899,804,"#1030e0"],[896,807,"#6a18c0"]].forEach(s=>{
    const c=mk("rect",{x:s[0],y:s[1],width:2.4,height:2.4,fill:s[2]},$("iSpecks"));
    
    
  });
  const fan=$("fan");
  const shape=mk("path",{d:"M806.7 764 L799.3 813.3 Q820 860 856.7 871.7 L906.7 873.3 Q907 855 903.3 840 Q899 828 890 816.7 Q880 802 870 790 Q858 780 847.3 776.7 Z",fill:"#fff"},fan);
  
  
  const cx=790,cy=868.3;
  const rIn=a=>86-7*a/60,rOut=a=>116-13*a/60;
  const geo=a=>a*56/60*Math.PI/180;
  const p=(a,r)=>[cx+r*Math.cos(geo(a)),cy-r*Math.sin(geo(a))];
  iWheelAngles.slice(0,-1).forEach((a,i)=>{
    const b=iWheelAngles[i+1];
    const s=mk("polygon",{points:poly([p(a,rIn(a)),p(a,rOut(a)),p(b+.4,rOut(b)),p(b+.4,rIn(b))]),fill:colorAt(iColorValues,iColors,(a+b)/2)},fan);
    
    
  });
  iWheelMajor.forEach(a=>{
    const e=p(a,rOut(a)+3),st=p(a,rIn(a));
    const l=mk("line",{x1:st[0],y1:st[1],x2:e[0],y2:e[1],stroke:"#000","stroke-width":1.3},fan);
    
    
  });
  iWheelMinor.forEach(a=>{
    const e=p(a,rOut(a)),st=p(a,rIn(a));
    const l=mk("line",{x1:st[0],y1:st[1],x2:e[0],y2:e[1],stroke:"#000","stroke-width":.6,"stroke-dasharray":"1.5 1"},fan);
    
    
  });
})();

/* ---------- panel j ---------- */
(function(){
  const cx=957.3,cy=1099.3,R=142.7;
  const pt=(a,r)=>[cx+R*r/100*Math.cos(a*Math.PI/180),cy-R*r/100*Math.sin(a*Math.PI/180)];
  jSpokes.forEach(a=>{
    const e=pt(a,100);
    const l=mk("line",{x1:cx,y1:cy,x2:e[0],y2:e[1],stroke:"#d8dff8","stroke-width":1.1},$("jGrid"));
    
    
  });
  const g=$("jMarks");
  const fit=mk("path",{d:smooth(jFitAngle.map((a,i)=>pt(a,jFitRadius[i])),true),fill:"none",stroke:"#1fb0ee","stroke-width":1.9},g);
  
  
  const ideal=mk("path",{d:smooth(jIdealAngle.map((a,i)=>pt(a,jIdealRadius[i])),true),fill:"none",stroke:"#4a4a4a","stroke-width":1.7},g);
  
  
  const top=pt(90,100);
  const v=mk("line",{x1:cx,y1:cy,x2:top[0],y2:top[1],stroke:"#7b3fa0","stroke-width":1.6},g);
  
  
  const ax=pt(jAxisAngle,108);
  const d=mk("line",{x1:cx,y1:cy,x2:ax[0],y2:ax[1],stroke:"#7b3fa0","stroke-width":1.6,"stroke-dasharray":"5 2.5"},g);
  
  
  jDataAngle.forEach((a,i)=>{
    const q=pt(a,jDataRadius[i]);
    const c=mk("circle",{cx:q[0],cy:q[1],r:4.3,fill:"#0b2a9c"},g);
    
    
  });
  const b=pt(jBAngle,31);
  const ar=mk("line",{x1:cx,y1:cy,x2:b[0],y2:b[1],stroke:"#f5a800","stroke-width":1.8},g);
  
  
  const h1=pt(jBAngle-7,23),h2=pt(jBAngle+7,23);
  const hd=mk("polygon",{points:poly([b,h1,h2]),fill:"#f5a800"},g);
  
  
  const t1=pt(jBAngle-35,6),t2=pt(jBAngle+35,6);
  const hd2=mk("polygon",{points:poly([[cx,cy],t1,t2]),fill:"#f5a800"},g);
  
  
})();

/* ---------- panel b spots ---------- */
(function(){
  const z=(a,b)=>[780+a/3,b/3];
  [[376,206],[713,221],[542,318],[370,416],[707,431],[873,543],[364,626],[702,641],[530,739],[358,836],[696,851]].forEach(s=>{
    const p=z(s[0],s[1]);
    const e=mk("ellipse",{cx:p[0],cy:p[1],rx:1.8,ry:1.2,fill:"#fff",transform:"rotate(-25 "+p[0]+" "+p[1]+")"},$("spots"));
    
    
  });
  [[547,108],[203,303],[878,333],[192,723],[866,752],[210,95],[880,125],[860,965],[180,930]].forEach(s=>{
    const p=z(s[0],s[1]);
    const e=mk("ellipse",{cx:p[0],cy:p[1],rx:1.6,ry:1,fill:"#3c3c3c"},$("spots"));
    
    
  });
})();

/* ---------- panel a crystal drawings ---------- */
(function(){
  const z=(a,b)=>[340+a/3,10+b/3];
  /* inset atoms */
  const a1=[76.6,-4.7];
  const moStarts=[[437,403],[405,475],[448,546],[413,620],[457,689],[499,760]];
  const moCounts=[8,8,8,8,8,7];
  const sStarts=[[399,380],[443,450],[408,523],[452,594],[417,668],[460,738]];
  const mo=[],su=[];
  moStarts.forEach((s,r)=>{for(let i=0;i<moCounts[r];i++)mo.push([s[0]+a1[0]*i,s[1]+a1[1]*i]);});
  sStarts.forEach(s=>{for(let i=0;i<8;i++)su.push([s[0]+a1[0]*i,s[1]+a1[1]*i]);});
  const host=$("insetAtoms");
  mo.forEach(m=>su.forEach(s=>{
    if(Math.hypot(m[0]-s[0],m[1]-s[1])<58){
      const A=z(m[0],m[1]),B=z(s[0],s[1]);
      const l=mk("line",{x1:A[0],y1:A[1],x2:B[0],y2:B[1],stroke:"#a8a8a8","stroke-width":1.4},host);
      
      
    }
  }));
  su.forEach(s=>{
    const p=z(s[0],s[1]);
    const c=mk("circle",{cx:p[0],cy:p[1],r:3.9,fill:"url(#sBall)"},host);
    
    
  });
  mo.forEach(s=>{
    const p=z(s[0],s[1]);
    const c=mk("circle",{cx:p[0],cy:p[1],r:4.4,fill:"url(#moBall)"},host);
    
    
  });
  /* perspective view */
  const F=[585,205],L=[205,120],R=[738,90],B=[480,48];
  const g3=$("atoms3d");
  const items=[];
  const N=14;
  for(let j=0;j<N;j++){for(let i=0;i<N;i++){
    const u=i/(N-1),v=j/(N-1);
    const x=(1-u)*(1-v)*L[0]+u*(1-v)*F[0]+(1-u)*v*B[0]+u*v*R[0];
    const y=(1-u)*(1-v)*L[1]+u*(1-v)*F[1]+(1-u)*v*B[1]+u*v*R[1];
    const depth=(y-40)/170;
    items.push({x,y,d:depth,i,j});
  }}
  items.sort((a,b)=>a.y-b.y);
  items.forEach(a=>{
    const s=1.7+a.d*3.8;
    const p=z(a.x,a.y);
    const off=3+a.d*11;
    if((a.i+a.j)%2===0){
      const dn=[p[0],p[1]+off];
      const l=mk("line",{x1:p[0]-6,y1:p[1]+1,x2:dn[0],y2:dn[1],stroke:"#9a9a9a","stroke-width":1.1},g3);
      
      
      const l2=mk("line",{x1:p[0],y1:p[1],x2:dn[0],y2:dn[1],stroke:"#9a9a9a","stroke-width":1.1},g3);
      
      
      const b=mk("circle",{cx:dn[0],cy:dn[1],r:s*.85,fill:"url(#sBall)"},g3);
      
      
      const m=mk("circle",{cx:p[0],cy:p[1],r:s*1.1,fill:"url(#moBall)"},g3);
      
      
    }else{
      const t=mk("circle",{cx:p[0],cy:p[1]-off*.6,r:s,fill:"url(#sBall)"},g3);
      
      
    }
  });
  /* side view top */
  const st=$("sideTop");
  for(let k=0;k<16;k++){
    const zx=865+24.3*k;
    const m=z(zx,80),u=z(zx,60),d=z(zx,103);
    if(k<15){
      const u2=z(zx+24.3,60),d2=z(zx+24.3,103);
      const l=mk("path",{d:"M"+u[0]+" "+u[1]+"L"+d2[0]+" "+d2[1]+"M"+d[0]+" "+d[1]+"L"+u2[0]+" "+u2[1],stroke:"#3d5a60","stroke-width":1,fill:"none"},st);
      
      
    }
    const a=mk("circle",{cx:u[0],cy:u[1],r:2.7,fill:"#cfcc2a"},st);
    
    
    const b=mk("circle",{cx:d[0],cy:d[1],r:2.7,fill:"#cfcc2a"},st);
    
    
    const c=mk("circle",{cx:m[0],cy:m[1],r:3,fill:"#2f9fb8"},st);
    
    
  }
  /* side view bottom */
  const sb=$("sideBottom");
  for(let k=0;k<10;k++){
    const zx=822+44.5*k;
    const m=z(zx,207),u=z(zx+22,185),d=z(zx+22,230),nx=z(zx+44.5,207);
    const l=mk("path",{d:"M"+m[0]+" "+m[1]+"L"+u[0]+" "+u[1]+"L"+nx[0]+" "+nx[1]+"L"+d[0]+" "+d[1]+"Z",stroke:"#777","stroke-width":1,fill:"none"},sb);
    
    
    const a=mk("circle",{cx:u[0],cy:u[1],r:2.7,fill:"#cfcc2a"},sb);
    
    
    const b=mk("circle",{cx:d[0],cy:d[1],r:2.7,fill:"#cfcc2a"},sb);
    
    
    const c=mk("circle",{cx:m[0],cy:m[1],r:3,fill:"#2f9fb8"},sb);
    
    
  }
})();

/* ---------- micrographs (texture only) ---------- */
function hash(i,j){const s=Math.sin(i*127.1+j*311.7)*43758.5453;return s-Math.floor(s);}
function vnoise(x,y){
  const i=Math.floor(x),j=Math.floor(y),f=x-i,g=y-j;
  const u=f*f*(3-2*f),v=g*g*(3-2*g);
  return (hash(i,j)*(1-u)+hash(i+1,j)*u)*(1-v)+(hash(i,j+1)*(1-u)+hash(i+1,j+1)*u)*v;
}
function micrograph(id,o){
  const cv=$(id),ctx=cv.getContext("2d"),W=cv.width,H=cv.height;
  const a1=o.a1,a2=o.a2;
  const im=ctx.createImageData(W,H),det=a1[0]*a2[1]-a1[1]*a2[0],T=2*Math.PI;
  const b1=[T*a2[1]/det,-T*a2[0]/det],b2=[-T*a1[1]/det,T*a1[0]/det];
  for(let y=0;y<H;y++)for(let x=0;x<W;x++){
    const rx=x-o.ox+o.wob*(vnoise(x/o.wobScale,y/o.wobScale)-.5);
    const ry=y-o.oy+o.wob*(vnoise(x/o.wobScale+31,y/o.wobScale+17)-.5);
    const p1=b1[0]*rx+b1[1]*ry,p2=b2[0]*rx+b2[1]*ry;
    const g=Math.cos(p1)+Math.cos(p2)+Math.cos(p1+p2);
    let t=((3-g)/4.5-o.thr)/(1-o.thr);t=t<0?0:t;
    const n=vnoise(x/o.cell,y/o.cell);
    const node=Math.pow(t,4);
    let v=o.floor+255*(o.bond*t+o.peak*node*(.15+1.25*n));
    v=v>255?255:v;
    const k=(y*W+x)*4;
    im.data[k]=im.data[k+1]=im.data[k+2]=v;im.data[k+3]=255;
  }
  ctx.putImageData(im,0,0);
}
micrograph("haadf",{a1:[10.2,-.6],a2:[5.7,9.5],ox:4,oy:3,wob:4,wobScale:35,cell:4,thr:.5,floor:4,bond:.62,peak:.45});
micrograph("inset",{a1:[25.53,-1.57],a2:[14.3,23.7],ox:53.4,oy:31,wob:5,wobScale:45,cell:11,thr:.38,floor:14,bond:.55,peak:.45});
</script>
</body>
</html>
